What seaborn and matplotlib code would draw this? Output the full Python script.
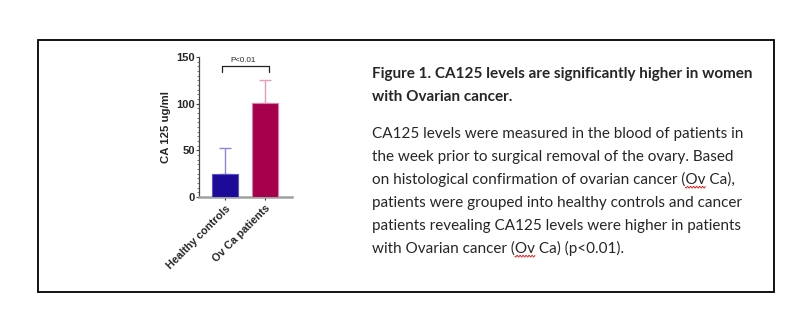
import numpy as np
import pandas as pd
import matplotlib
matplotlib.use("Agg")
import matplotlib.pyplot as plt
import seaborn as sns
from matplotlib.patches import Rectangle
from matplotlib.lines import Line2D
from matplotlib.ticker import MultipleLocator

# ---- data ----
groups = ["Healthy controls", "Ov Ca patients"]
means = [25, 101]
upper_err = [28, 24]
y_ticks = [0, 50, 100, 150]
y_label = "CA 125 ug/ml"
p_label = "P<0.01"

title_lines = [
    "Figure 1. CA125 levels are significantly higher in women",
    "with Ovarian cancer.",
]
body_lines = [
    "CA125 levels were measured in the blood of patients in",
    "the week prior to surgical removal of the ovary. Based",
    "on histological confirmation of ovarian cancer (Ov Ca),",
    "patients were grouped into healthy controls and cancer",
    "patients revealing CA125 levels were higher in patients",
    "with Ovarian cancer (Ov Ca) (p<0.01).",
]

# ---- style ----
bar_colors = ["#1d0a98", "#a6004d"]
edge_colors = ["#5a52cc", "#e07fa6"]
err_colors = ["#8a86dc", "#e89bbb"]

sns.set_style("ticks")
plt.rcParams["font.family"] = ["Liberation Sans", "DejaVu Sans"]

W, H = 805, 325
fig = plt.figure(figsize=(W / 100, H / 100), dpi=100)

def px(x, y):
    return x / W, 1 - y / H

# frame around the figure panel
fig.patches.append(Rectangle(px(38, 292), (774 - 38) / W, (292 - 40) / H,
                             transform=fig.transFigure, fill=False,
                             edgecolor="black", linewidth=1.3))

# ---- bar chart ----
ax = fig.add_axes([199 / W, 1 - 197 / H, 93 / W, 140 / H])
df = pd.DataFrame({"group": groups, "value": means})
sns.barplot(data=df, x="group", y="value", hue="group", palette=bar_colors,
            saturation=1, width=0.67, errorbar=None, legend=False, ax=ax,
            zorder=3)
for patch, ec in zip(ax.patches, edge_colors):
    patch.set_edgecolor(ec)
    patch.set_linewidth(0.8)

for i, (m, e) in enumerate(zip(means, upper_err)):
    ax.errorbar(i, m, yerr=[[0], [e]], color=err_colors[i], capsize=4.6,
                elinewidth=1.0, capthick=1.0, zorder=2)

ax.set_xlim(-0.65, 1.675)
ax.set_ylim(0, 150)
sns.despine(ax=ax)
ax.spines["left"].set_color("#444444")
ax.spines["left"].set_linewidth(0.9)
ax.spines["bottom"].set_color("#a0a0a0")
ax.spines["bottom"].set_linewidth(1.8)

ax.set_yticks(y_ticks, labels=[str(v) for v in y_ticks],
              fontweight="bold", fontsize=8)
ax.yaxis.set_minor_locator(MultipleLocator(5))
ax.tick_params(axis="y", which="major", length=2.5, width=0.8,
               color="#444444", pad=0.5)
ax.tick_params(axis="y", which="minor", length=1.5, width=0.6,
               color="#666666")
ax.set_xticks([0, 1])
ax.set_xticklabels(groups, rotation=45, ha="right", rotation_mode="anchor",
                   fontweight="bold", fontsize=7.8)
ax.tick_params(axis="x", length=2.5, width=0.8, color="#333333", pad=2)

ax.set_xlabel("")
ax.set_ylabel(y_label, fontweight="bold", fontsize=8.2)
ax.yaxis.set_label_coords(-0.30, 0.5)

# significance bracket
ax.plot([-0.075, -0.075, 1.09, 1.09], [134, 140, 140, 134],
        color="#222222", lw=0.9, clip_on=False)
ax.text(0.45, 143, p_label, ha="center", va="bottom", fontsize=5.8,
        clip_on=False)

# ---- caption text ----
text_font = ["Lato", "DejaVu Sans"]
x0 = 372
title_base = [78, 101]
body_base = [138, 161, 184, 207, 230, 253]
fs_title = 11.0
fs_body = 11.0

for line, yb in zip(title_lines, title_base):
    fig.text(*px(x0, yb), line, ha="left", va="baseline", fontsize=fs_title,
             fontweight="bold", family=text_font)

for line, yb in zip(body_lines, body_base):
    fig.text(*px(x0, yb), line, ha="left", va="baseline",
             fontsize=fs_body, family=text_font)

# spell-check squiggles under "Ov"
fig.canvas.draw()
renderer = fig.canvas.get_renderer()

def width_of(s):
    t = fig.text(0, 0, s, fontsize=fs_body, family=text_font)
    w = t.get_window_extent(renderer).width
    t.remove()
    return w

for line, yb in zip(body_lines, body_base):
    idx = line.find("(Ov")
    if idx < 0:
        continue
    prefix = line[: idx + 1]
    xa = x0 + width_of(prefix)
    xb = x0 + width_of(prefix + "Ov")
    xs = np.linspace(xa, xb, 60)
    ys = yb + 3.2 + 0.9 * np.sin((xs - xa) / 3.0 * 2 * np.pi)
    fig.lines.append(Line2D(xs / W, 1 - ys / H, transform=fig.transFigure,
                            color="#e01010", lw=0.6))

fig.savefig("out.png", dpi=100)
